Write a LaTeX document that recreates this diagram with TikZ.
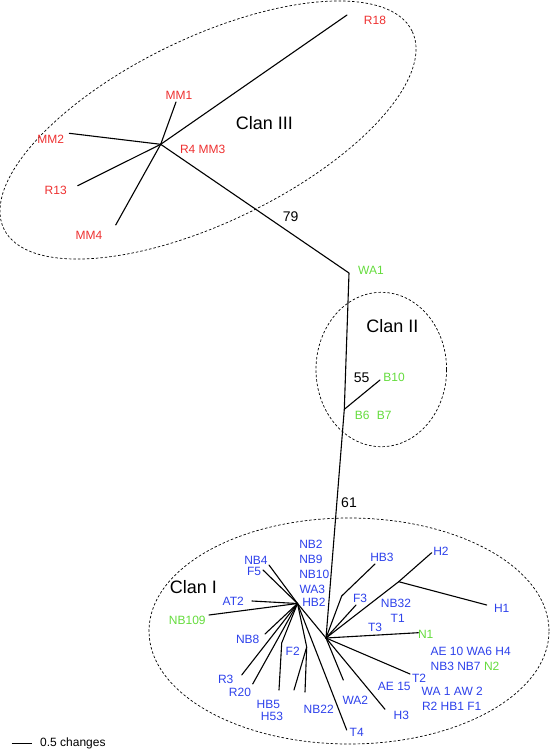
\documentclass[tikz,border=0pt]{standalone}
\usepackage{fontspec}
\setmainfont{Liberation Sans}
\definecolor{cr}{RGB}{238,48,48}
\definecolor{cb}{RGB}{45,65,235}
\definecolor{cg}{RGB}{100,220,60}
\begin{document}
\begin{tikzpicture}[x=1pt,y=-1pt,
  br/.style={line width=1.1pt, line cap=round, line join=round},
  clan/.style={dash pattern=on 2.5pt off 2pt, line width=0.7pt},
  lab/.style={font=\fontsize{12}{14}\selectfont, inner sep=0pt},
  lr/.style={lab, text=cr},
  lb/.style={lab, text=cb},
  lg/.style={lab, text=cg},
  num/.style={font=\fontsize{14}{16}\selectfont, inner sep=0pt},
  clanlab/.style={font=\fontsize{18}{20}\selectfont, inner sep=0pt}]
\useasboundingbox (0,0) rectangle (550,750);

% clan ellipses
\draw[clan, rotate around={25.85:(208,130)}] (208,130) ellipse [x radius=226.8pt, y radius=92.1pt];
\draw[clan] (381.3,369.5) ellipse [x radius=65.3pt, y radius=77.2pt];
\draw[clan] (349,631) ellipse [x radius=200pt, y radius=113pt];

% ---- coordinates
\coordinate (hubIII) at (160.7,144.3);
\coordinate (eR18) at (347,15);
\coordinate (eMM1) at (176,102);
\coordinate (eMM2) at (69.3,133.3);
\coordinate (eR13) at (77.7,185.7);
\coordinate (eMM4) at (115.7,225);
\coordinate (kWA1) at (349,273);
\coordinate (kB) at (344.3,409.3);
\coordinate (eB10) at (380,380);
\coordinate (hubI) at (326,638);
\coordinate (hubHB2) at (297.5,603.5);
\coordinate (eNB4) at (269,565);
\coordinate (eF5) at (263,570);
\coordinate (eAT2) at (252,601);
\coordinate (eNB109) at (209,615);
\coordinate (eNB8) at (265,634);
\coordinate (eR3) at (241.7,675);
\coordinate (eR20) at (252.7,684);
\coordinate (kHB5) at (281.7,643);
\coordinate (eHB5) at (279,690);
\coordinate (kF2) at (306.7,647);
\coordinate (eF2) at (294,690);
\coordinate (eNB22) at (305,692);
\coordinate (eT4) at (346.7,730);
\coordinate (kHB3) at (341.7,596);
\coordinate (eHB3) at (375,564);
\coordinate (eF3) at (356,605);
\coordinate (kH) at (398.7,581.7);
\coordinate (eH2) at (431.7,552.7);
\coordinate (eH1) at (486.7,605);
\coordinate (eN1) at (418.3,632.7);
\coordinate (eT2) at (410,674);
\coordinate (eH3) at (385,709.3);
\coordinate (eWA2) at (343.3,680);
\coordinate (sA) at (11.7,743.3);
\coordinate (sB) at (32.3,743.3);

% ---- branches
\draw[br] (hubIII) -- (eR18);
\draw[br] (hubIII) -- (eMM1);
\draw[br] (hubIII) -- (eMM2);
\draw[br] (hubIII) -- (eR13);
\draw[br] (hubIII) -- (eMM4);
\draw[br] (hubIII) -- (kWA1) -- (kB) -- (hubI);
\draw[br] (kB) -- (eB10);
\draw[br] (hubI) -- (hubHB2);
\draw[br] (hubHB2) -- (eNB4);
\draw[br] (hubHB2) -- (eF5);
\draw[br] (hubHB2) -- (eAT2);
\draw[br] (hubHB2) -- (eNB109);
\draw[br] (hubHB2) -- (eNB8);
\draw[br] (hubHB2) -- (eR3);
\draw[br] (hubHB2) -- (eR20);
\draw[br] (hubHB2) -- (kHB5) -- (eHB5);
\draw[br] (hubHB2) -- (kF2) -- (eF2);
\draw[br] (kF2) -- (eNB22);
\draw[br] (hubHB2) -- (eT4);
\draw[br] (hubI) -- (kHB3) -- (eHB3);
\draw[br] (hubI) -- (eF3);
\draw[br] (hubI) -- (kH) -- (eH2);
\draw[br] (kH) -- (eH1);
\draw[br] (hubI) -- (eN1);
\draw[br] (hubI) -- (eT2);
\draw[br] (hubI) -- (eH3);
\draw[br] (hubI) -- (eWA2);
\draw[line width=0.8pt] (sA) -- (sB);

% ---- labels clan III
\node[lr] (lR18) at (375,20.7) {R18};
\node[lr] (lMM1) at (179,95) {MM1};
\node[lr] (lMM2) at (50.7,139) {MM2};
\node[lr] (lR4) at (202.7,149.3) {R4 MM3};
\node[lr] (lR13) at (55.7,190.7) {R13};
\node[lr] (lMM4) at (89,235.3) {MM4};
\node[clanlab] (cIII) at (264.3,123.3) {Clan III};
\node[num] (n79) at (290.7,216.7) {79};
\node[lg] (lWA1) at (371,270.7) {WA1};

% ---- clan II
\node[clanlab] (cII) at (392.3,326) {Clan II};
\node[num] (n55) at (361.7,377.7) {55};
\node[lg] (lB10) at (394,377.7) {B10};
\node[lg] (lB6) at (362.3,415.7) {B6};
\node[lg] (lB7) at (384.3,415.7) {B7};
\node[num] (n61) at (349,502.3) {61};

% ---- clan I
\node[clanlab] (cI) at (193.3,587.3) {Clan I};
\node[lb] (lNB2) at (311,544.3) {NB2};
\node[lb] (lNB9) at (311,559.3) {NB9};
\node[lb] (lNB10) at (314.3,574) {NB10};
\node[lb] (lWA3) at (312.3,589.3) {WA3};
\node[lb] (lHB2) at (314,602.3) {HB2};
\node[lb] (lNB4) at (256,560.7) {NB4};
\node[lb] (lF5) at (254,571.7) {F5};
\node[lb] (lAT2) at (233.3,601.7) {AT2};
\node[lg] (lNB109) at (187.3,620) {NB109};
\node[lb] (lNB8) at (247.7,639) {NB8};
\node[lb] (lF2) at (292.7,651.7) {F2};
\node[lb] (lR3) at (225.7,679) {R3};
\node[lb] (lR20) at (240,692.7) {R20};
\node[lb] (lHB5) at (268.3,704.3) {HB5};
\node[lb] (lH53) at (272,716.7) {H53};
\node[lb] (lNB22) at (318.7,709.3) {NB22};
\node[lb] (lT4) at (356.7,732.3) {T4};
\node[lb] (lHB3) at (382,557.3) {HB3};
\node[lb] (lH2) at (441,551.7) {H2};
\node[lb] (lF3) at (360,598.3) {F3};
\node[lb] (lNB32) at (396,603.3) {NB32};
\node[lb] (lT1) at (397.7,618.3) {T1};
\node[lb] (lT3) at (375,627.3) {T3};
\node[lg] (lN1) at (425.7,634) {N1};
\node[lb] (lH1) at (501.7,608.3) {H1};
\node[lb] (lAE10) at (470.7,651.3) {AE 10 WA6 H4};
\node[lb] (lNB3) at (465,666) {NB3 NB7 \textcolor{cg}{N2}};
\node[lb] (lT2) at (419,678.3) {T2};
\node[lb] (lAE15) at (394.3,686.7) {AE 15};
\node[lb] (lWA1b) at (452.3,691.7) {WA 1 AW 2};
\node[lb] (lR2) at (451.7,706) {R2 HB1 F1};
\node[lb] (lWA2) at (355.3,700) {WA2};
\node[lb] (lH3) at (401.3,715.3) {H3};

% scale
\node[lab, anchor=west] (lscale) at (40,743.3) {0.5 changes};
\end{tikzpicture}
\end{document}
